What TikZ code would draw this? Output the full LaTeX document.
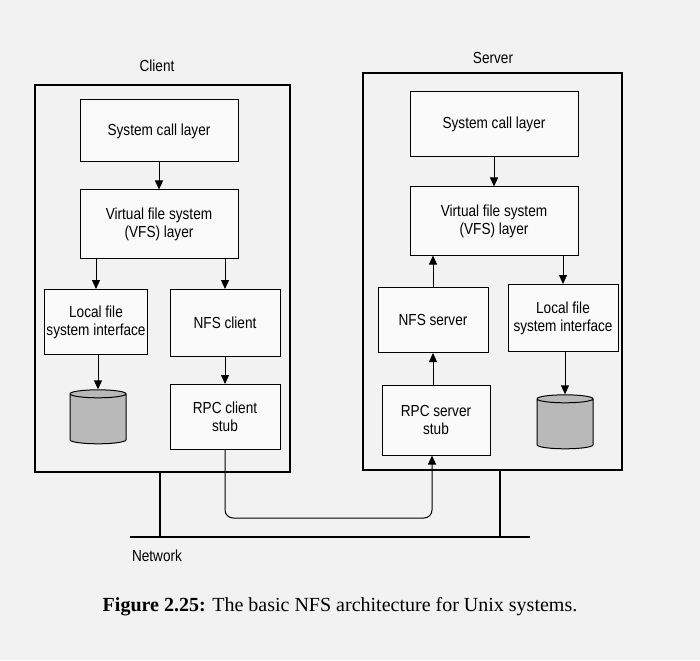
\documentclass[tikz,border=0pt]{standalone}
\usepackage{fontspec}
\setmainfont{Liberation Serif}
\newfontfamily\boxfont[FakeStretch=0.85]{Liberation Sans}
\usetikzlibrary{shapes.geometric,arrows.meta}
\begin{document}
\begin{tikzpicture}[x=1pt,y=-1pt,
  layer/.style={draw,line width=1pt,fill=white!96!gray,font=\boxfont\fontsize{16}{18}\selectfont,align=center,inner sep=2pt},
  frame/.style={draw,line width=1.6pt},
  arr/.style={-{Triangle[length=9pt,width=8pt]},line width=1pt},
  disk/.style={cylinder,shape border rotate=90,draw,line width=1pt,fill=gray!55,minimum width=56pt,minimum height=54pt,aspect=1.2},
  lbl/.style={font=\boxfont\fontsize{16}{18}\selectfont}]
\fill[gray!10] (0,0) rectangle (700,660);
\useasboundingbox (0,0) rectangle (700,660);
% frames
\draw[frame] (35,85) rectangle (290,472);
\draw[frame] (363,73) rectangle (622,470);
\node[lbl] (clab) at (157,66) {Client};
\node[lbl] (slab) at (493,58) {Server};
% client
\node[layer,minimum width=158pt,minimum height=62pt] (csys) at (159,131) {System call layer};
\node[layer,minimum width=158pt,minimum height=68pt] (cvfs) at (159,224) {Virtual file system\\(VFS) layer};
\node[layer,minimum width=103pt,minimum height=65pt] (cloc) at (96,322) {Local file\\system interface};
\node[layer,minimum width=110pt,minimum height=67pt] (cnfs) at (225,323) {NFS client};
\node[disk] (cdisk) at (98,420) {};
\node[layer,minimum width=110pt,minimum height=65pt] (crpc) at (225,417) {RPC client\\stub};
% server
\node[layer,minimum width=168pt,minimum height=65pt] (ssys) at (494,124) {System call layer};
\node[layer,minimum width=168pt,minimum height=68pt] (svfs) at (494,221) {Virtual file system\\(VFS) layer};
\node[layer,minimum width=110pt,minimum height=65pt] (snfs) at (433,320) {NFS server};
\node[layer,minimum width=110pt,minimum height=67pt] (sloc) at (563,318) {Local file\\system interface};
\node[layer,minimum width=108pt,minimum height=70pt] (srpc) at (436,420) {RPC server\\stub};
\node[disk] (sdisk) at (565,425) {};
% arrows client
\draw[arr] (csys.south) -- (cvfs.north);
\draw[arr] (cvfs.south -| cloc.north) -- (cloc.north);
\draw[arr] (cvfs.south -| cnfs.north) -- (cnfs.north);
\draw[arr] (cloc.south -| cdisk.top) -- (cdisk.top);
\draw[arr] (cnfs.south) -- (crpc.north);
% arrows server
\draw[arr] (ssys.south) -- (svfs.north);
\draw[arr] (snfs.north) -- (snfs.north |- svfs.south);
\draw[arr] (svfs.south -| sloc.north) -- (sloc.north);
\draw[arr] (sloc.south -| sdisk.top) -- (sdisk.top);
\draw[arr] (srpc.north -| snfs.south) -- (snfs.south);
% network
\coordinate (nl) at (130,537);
\coordinate (nr) at (530,537);
\coordinate (cf) at (160,472);
\coordinate (sf) at (500,470);
\draw[line width=2pt] (nl) -- (nr);
\draw[line width=1.6pt] (cf) -- (cf |- nl);
\draw[line width=1.6pt] (sf) -- (sf |- nl);
\draw[arr,rounded corners=8pt] (crpc.south) -- (225,518) -- (432,518) -- (srpc.south -| 432,0);
\node[lbl] (net) at (157,556) {Network};
\node[font=\fontsize{20}{23}\selectfont] (cap) at (340,607) {\textbf{Figure 2.25:} The basic NFS architecture for Unix systems.};
\end{tikzpicture}
\end{document}
